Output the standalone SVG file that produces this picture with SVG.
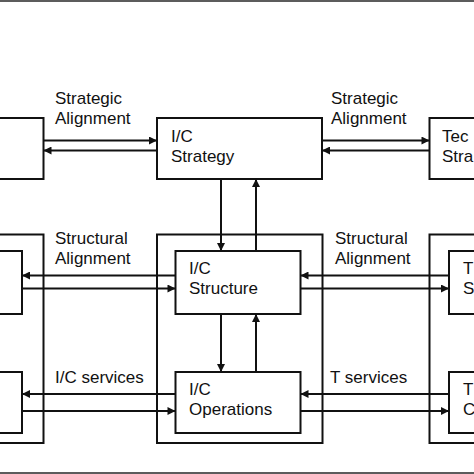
<svg xmlns="http://www.w3.org/2000/svg" width="474" height="474" viewBox="0 0 474 474">
<style>
.box{fill:none;stroke:#111;stroke-width:2}
.ln{fill:none;stroke:#111;stroke-width:2}
text{font-family:"Liberation Sans",Arial,sans-serif;font-size:17px;fill:#111}
</style>
<defs>
<marker id="ah" viewBox="0 0 10 10" refX="10" refY="5" markerWidth="10" markerHeight="8" markerUnits="userSpaceOnUse" orient="auto">
<path d="M0,0 L10,5 L0,10 Z" fill="#111"/>
</marker>
</defs>
<rect x="0" y="0" width="474" height="474" fill="#fff"/>
<rect x="0" y="0" width="474" height="2" fill="#5c5c5c"/>
<rect x="0" y="472" width="474" height="2" fill="#5c5c5c"/>

<g id="left-strategy"><rect class="box" x="-10" y="118" width="53.5" height="61"/></g>
<g id="ic-strategy"><rect class="box" x="157" y="118" width="165" height="61"/>
<text x="171" y="142">I/C</text><text x="171" y="162">Strategy</text></g>
<g id="tech-strategy"><rect class="box" x="429.5" y="118" width="60" height="61"/>
<text x="442" y="142">Tec</text><text x="442" y="162">Stra</text></g>

<g id="left-outer"><rect class="box" x="-10" y="234.5" width="53.5" height="208.5"/></g>
<g id="left-structure"><rect class="box" x="-10" y="251" width="32" height="63"/></g>
<g id="left-operations"><rect class="box" x="-10" y="372" width="32" height="61"/></g>

<g id="middle-outer"><rect class="box" x="157" y="234.5" width="165.5" height="208.5"/></g>
<g id="ic-structure"><rect class="box" x="175.5" y="251" width="125" height="63"/>
<text x="189" y="274">I/C</text><text x="189" y="294">Structure</text></g>
<g id="ic-operations"><rect class="box" x="175.5" y="372" width="125" height="61"/>
<text x="189" y="395">I/C</text><text x="189" y="415">Operations</text></g>

<g id="right-outer"><rect class="box" x="429.5" y="234.5" width="60" height="208.5"/></g>
<g id="t-structure"><rect class="box" x="449" y="251" width="40" height="63"/>
<text x="463" y="274">T</text><text x="463" y="294">S</text></g>
<g id="t-operations"><rect class="box" x="449" y="372" width="40" height="61"/>
<text x="463" y="395">T</text><text x="463" y="415">C</text></g>

<g id="labels">
<text x="55" y="104">Strategic</text><text x="55" y="124">Alignment</text>
<text x="331" y="104">Strategic</text><text x="331" y="124">Alignment</text>
<text x="55" y="244">Structural</text><text x="55" y="264">Alignment</text>
<text x="335" y="244">Structural</text><text x="335" y="264">Alignment</text>
<text x="55" y="383">I/C services</text>
<text x="330" y="383">T services</text>
</g>

<g id="connectors">
<line class="ln" x1="43.5" y1="140.5" x2="157" y2="140.5" marker-end="url(#ah)"/>
<line class="ln" x1="157" y1="150.5" x2="43.5" y2="150.5" marker-end="url(#ah)"/>
<line class="ln" x1="322" y1="140.5" x2="429.5" y2="140.5" marker-end="url(#ah)"/>
<line class="ln" x1="429.5" y1="150.5" x2="322" y2="150.5" marker-end="url(#ah)"/>

<line class="ln" x1="221" y1="179" x2="221" y2="251" marker-end="url(#ah)"/>
<line class="ln" x1="256" y1="251" x2="256" y2="179" marker-end="url(#ah)"/>
<line class="ln" x1="221" y1="314" x2="221" y2="372" marker-end="url(#ah)"/>
<line class="ln" x1="256" y1="372" x2="256" y2="314" marker-end="url(#ah)"/>

<line class="ln" x1="175.5" y1="275.5" x2="22" y2="275.5" marker-end="url(#ah)"/>
<line class="ln" x1="22" y1="288.5" x2="175.5" y2="288.5" marker-end="url(#ah)"/>
<line class="ln" x1="175.5" y1="394" x2="22" y2="394" marker-end="url(#ah)"/>
<line class="ln" x1="22" y1="411" x2="175.5" y2="411" marker-end="url(#ah)"/>

<line class="ln" x1="449" y1="275.5" x2="300.5" y2="275.5" marker-end="url(#ah)"/>
<line class="ln" x1="300.5" y1="288.5" x2="449" y2="288.5" marker-end="url(#ah)"/>
<line class="ln" x1="449" y1="394" x2="300.5" y2="394" marker-end="url(#ah)"/>
<line class="ln" x1="300.5" y1="411" x2="449" y2="411" marker-end="url(#ah)"/>
</g>
</svg>
